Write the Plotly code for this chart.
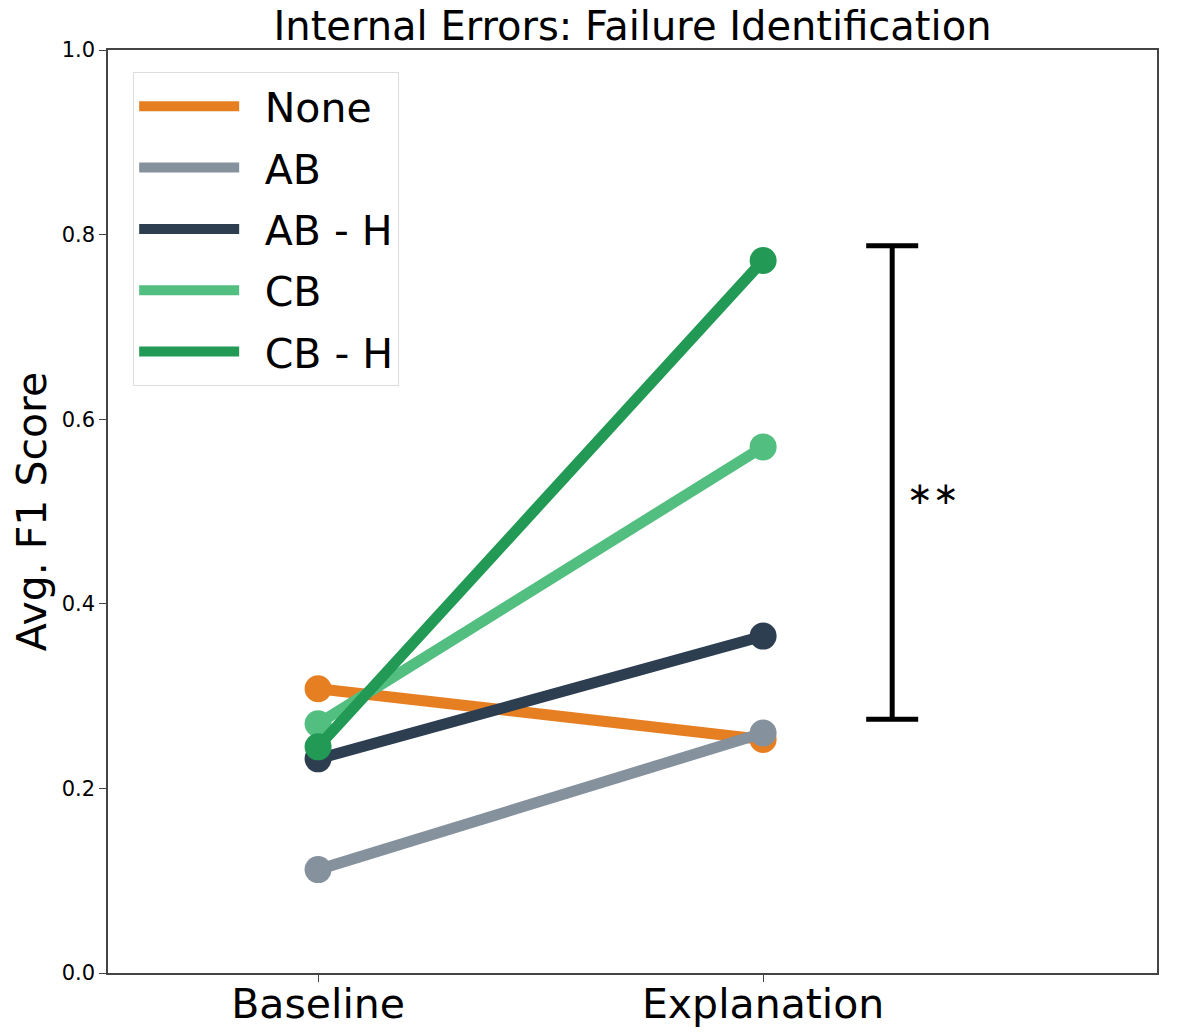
#!/usr/bin/env python3
"""
Internal Errors: Failure Identification - slope chart of avg. F1 score
"""
import plotly.graph_objects as go

# Data
conditions = ["Baseline", "Explanation"]
series_names = ["None", "AB", "AB - H", "CB", "CB - H"]
none_scores = [0.308, 0.253]
ab_scores = [0.112, 0.260]
ab_h_scores = [0.232, 0.365]
cb_scores = [0.270, 0.570]
cb_h_scores = [0.245, 0.772]
colors = ["#e67e22", "#85919c", "#2c3e50", "#52be80", "#229954"]

# significance bracket between the lowest and highest explanation score
sig_low = 0.275
sig_high = 0.788
sig_label = "∗∗"

all_scores = [none_scores, ab_scores, ab_h_scores, cb_scores, cb_h_scores]
x_pos = list(range(len(conditions)))

FONT = "DejaVu Sans"

fig = go.Figure()

for name, scores, color in zip(series_names, all_scores, colors):
    # line part (shown in legend); en space keeps the label clear of the swatch
    fig.add_trace(go.Scatter(
        x=x_pos, y=scores, mode="lines", name="\u2002" + name,
        legendgroup=name,
        line=dict(color=color, width=11),
    ))
    # markers, hidden from legend
    fig.add_trace(go.Scatter(
        x=x_pos, y=scores, mode="markers", name=name,
        legendgroup=name, showlegend=False,
        marker=dict(color=color, size=27),
    ))

# significance bar drawn as an error bar
sig_x = 1.29
fig.add_trace(go.Scatter(
    x=[sig_x], y=[(sig_low + sig_high) / 2], mode="markers",
    showlegend=False, hoverinfo="skip",
    marker=dict(size=1, color="rgba(0,0,0,0)"),
    error_y=dict(type="data", array=[(sig_high - sig_low) / 2],
                 color="black", thickness=5, width=26),
))

fig.add_annotation(
    x=sig_x + 0.092, y=0.52, text=sig_label, showarrow=False,
    xanchor="center", yanchor="middle",
    font=dict(family=FONT, size=31, color="black"),
)

fig.update_layout(
    width=1196, height=1035,
    margin=dict(l=100, r=47, t=42, b=70),
    paper_bgcolor="white", plot_bgcolor="white",
    font=dict(family=FONT, color="black"),
    title=dict(text="Internal Errors: Failure Identification",
               xref="paper", x=0.5, xanchor="center",
               yref="container", y=1.0, yanchor="top", pad=dict(t=4),
               font=dict(family=FONT, size=40, color="black")),
    legend=dict(x=0.024, y=0.976, xanchor="left", yanchor="top",
                bgcolor="white", bordercolor="#dddddd", borderwidth=1,
                font=dict(family=FONT, size=41, color="black"),
                tracegroupgap=5, itemwidth=100),
)

fig.update_xaxes(
    range=[-0.472, 1.885], automargin=False,
    tickmode="array", tickvals=x_pos, ticktext=conditions,
    tickfont=dict(family=FONT, size=41), ticklabelstandoff=-13,
    showgrid=False, zeroline=False,
    showline=True, linecolor="#444444", linewidth=1.5, mirror=True,
    ticks="outside", ticklen=7, tickcolor="#444444",
)

fig.update_yaxes(
    range=[0, 1.0], automargin=True,
    tickmode="array", tickvals=[0, 0.2, 0.4, 0.6, 0.8, 1.0],
    ticktext=["0.0", "0.2", "0.4", "0.6", "0.8", "1.0"],
    tickfont=dict(family=FONT, size=21),
    title=dict(text="Avg. F1 Score", font=dict(family=FONT, size=41), standoff=11),
    showgrid=False, zeroline=False,
    showline=True, linecolor="#444444", linewidth=1.5, mirror=True,
    ticks="outside", ticklen=7, tickcolor="#444444",
)

fig.write_html("out.html")
